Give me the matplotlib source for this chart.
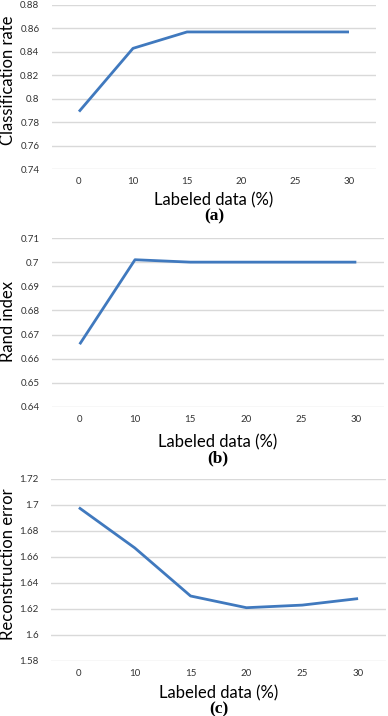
import matplotlib.pyplot as plt

# data
x_labels = ['0', '10', '15', '20', '25', '30']
class_rate = [0.789, 0.843, 0.857, 0.857, 0.857, 0.857]
rand_index = [0.666, 0.701, 0.700, 0.700, 0.700, 0.700]
recon_error = [1.698, 1.667, 1.630, 1.621, 1.623, 1.628]

W, H = 388, 716
fig = plt.figure(figsize=(W / 100, H / 100), dpi=100)
fig.patch.set_facecolor('white')

FONT = 'Lato'
LINE_COLOR = '#4079be'


def px_axes(left, right, top, bottom):
    return fig.add_axes([left / W, 1 - bottom / H, (right - left) / W, (bottom - top) / H])


def panel(box, values, yticks, ylabel, ylabel_y, xlabel_y, cap, cap_y):
    ax = px_axes(*box)
    ax.plot(range(len(values)), values, color=LINE_COLOR, lw=2, solid_capstyle='butt')
    ax.set_xlim(-0.5, len(values) - 0.5)
    ax.set_ylim(yticks[0], yticks[-1])
    ax.set_xticks(range(len(x_labels)))
    ax.set_xticklabels(x_labels, fontsize=7, family=FONT, color='#333333')
    ax.set_yticks(yticks)
    ax.set_yticklabels([('%g' % t) for t in yticks], fontsize=7, family=FONT, color='#333333')
    ax.tick_params(length=0, axis='y', pad=9)
    ax.tick_params(length=0, axis='x', pad=6)
    ax.grid(axis='y', color='#d9d9d9', lw=1)
    ax.set_axisbelow(True)
    for s in ax.spines.values():
        s.set_visible(False)
    cx = (box[0] + box[1]) / 2
    fig.text(cx / W, 1 - xlabel_y / H, 'Labeled data (%)', ha='center', va='center',
             fontsize=12, family=FONT)
    fig.text(8 / W, 1 - ylabel_y / H, ylabel, ha='center', va='center', rotation=90,
             fontsize=12, family=FONT)
    fig.text(cx / W, 1 - cap_y / H, cap, ha='center', va='center', fontsize=12.5,
             family='Liberation Serif', fontweight='bold')
    return ax


panel((52, 376, 5, 169), class_rate, [0.74, 0.76, 0.78, 0.80, 0.82, 0.84, 0.86, 0.88],
      'Classification rate', 80, 200, '(a)', 216)
panel((52, 384, 238, 407), rand_index, [0.64, 0.65, 0.66, 0.67, 0.68, 0.69, 0.70, 0.71],
      'Rand index', 322, 442, '(b)', 458)
panel((51, 386, 479, 661), recon_error, [1.58, 1.60, 1.62, 1.64, 1.66, 1.68, 1.70, 1.72],
      'Reconstruction error', 564, 693, '(c)', 709)

fig.savefig('out.png', dpi=100)
